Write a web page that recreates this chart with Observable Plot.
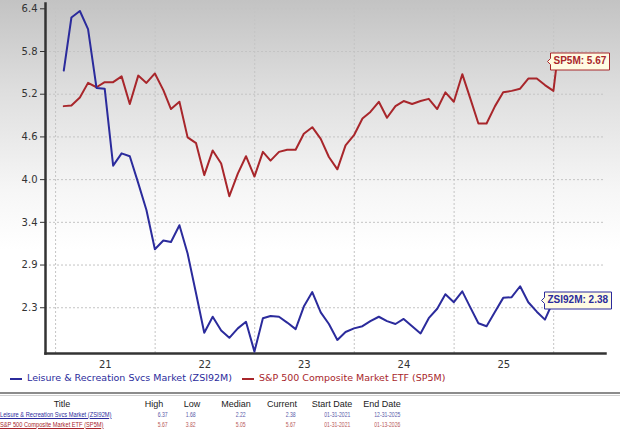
<!DOCTYPE html>
<html><head><meta charset="utf-8">
<script src="https://cdn.jsdelivr.net/npm/d3@7"></script>
<script src="https://cdn.jsdelivr.net/npm/@observablehq/plot@0.6"></script>
<style>
html,body{margin:0;padding:0;background:#fff;}
#wrap{position:relative;width:620px;height:431px;overflow:hidden;
  background:linear-gradient(to bottom,#c3c3c3 0px,#dedede 90px,#f6f6f6 190px,#ffffff 250px,#ffffff 100%);
  font-family:"DejaVu Sans",Verdana,sans-serif;}
#chart{position:absolute;left:0;top:0;}
#legend{position:absolute;left:10px;top:371px;font-size:9.5px;white-space:nowrap;line-height:14px;}
#legend .sw{display:inline-block;width:12px;height:2px;vertical-align:middle;margin-right:5px;}
#legend .it{margin-right:10px;}
#sep1{position:absolute;left:0;width:620px;top:392px;height:2px;background:#8c8c8c;}
#sep2{position:absolute;left:0;width:620px;top:395px;height:1px;background:#d0d0d0;}
.cell{position:absolute;white-space:nowrap;font-family:"Liberation Sans Narrow","Liberation Sans",Arial,sans-serif;}
.hd{font-size:9px;color:#222;transform:translateX(-50%);}
.v{font-size:7.5px;}
.ttl{font-size:7.5px;text-decoration:underline;}
</style></head>
<body>
<div id="wrap">
  <div id="chart"></div>
  <div id="legend"></div>
  <div id="sep1"></div><div id="sep2"></div>
  <div id="table"></div>
</div>
<script>
// ---- data ----
const seriesNames = ["Leisure & Recreation Svcs Market (ZSI92M)", "S&P 500 Composite Market ETF (SP5M)"];
const seriesCodes = ["ZSI92M", "SP5M"];
const seriesColors = ["#2b2b9c", "#a8262b"];
const firstMonthEnd = "2021-01-31";
const extraRedDate = "2026-01-13";
const zsi92mValues = [5.55,6.28,6.37,6.12,5.31,5.30,4.24,4.41,4.37,4.00,
  3.63,3.09,3.21,3.19,3.42,3.03,2.48,1.94,2.16,1.97,
  1.87,2.00,2.09,1.68,2.14,2.17,2.16,2.08,1.99,2.30,
  2.50,2.22,2.06,1.84,1.95,2.00,2.03,2.10,2.16,2.10,
  2.06,2.13,2.03,1.93,2.14,2.27,2.47,2.36,2.51,2.30,
  2.07,2.03,2.23,2.42,2.43,2.58,2.36,2.23,2.12,2.38];
const sp5mValues = [5.06,5.07,5.18,5.38,5.32,5.39,5.39,5.47,5.09,5.48,
  5.38,5.51,5.28,5.02,5.12,4.63,4.55,4.11,4.45,4.27,
  3.82,4.13,4.37,4.09,4.43,4.31,4.43,4.46,4.46,4.68,
  4.77,4.61,4.36,4.19,4.52,4.66,4.89,4.98,5.12,4.90,
  5.06,5.13,5.09,5.13,5.16,5.02,5.25,5.12,5.50,5.18,
  4.82,4.82,5.06,5.25,5.27,5.30,5.44,5.44,5.35,5.27,5.67];
const yTickValues = [6.4, 5.812, 5.224, 4.636, 4.048, 3.46, 2.872, 2.284];
const yTickLabels = ["6.4","5.8","5.2","4.6","4.0","3.4","2.9","2.3"];
const xTickYears = ["2021","2022","2023","2024","2025"];
const xTickLabels = ["21","22","23","24","25"];
const gridYears = ["2021","2022","2023","2024","2025","2026"];
const tableHeaders = ["Title","High","Low","Median","Current","Start Date","End Date"];
const tableHigh = ["6.37","5.67"];
const tableLow = ["1.68","3.82"];
const tableMedian = ["2.22","5.05"];
const tableCurrent = ["2.38","5.67"];
const tableStart = ["01-31-2021","01-31-2021"];
const tableEnd = ["12-31-2025","01-13-2026"];

// ---- build rows ----
const parse = d3.utcParse("%Y-%m-%d");
const start = parse(firstMonthEnd);
const monthEnd = i => d3.utcDay.offset(d3.utcMonth.offset(d3.utcMonth.floor(start), i + 1), -1);
const blue = zsi92mValues.map((v, i) => ({date: monthEnd(i), value: v}));
const red = sp5mValues.map((v, i) => ({date: i < 60 ? monthEnd(i) : parse(extraRedDate), value: v}));
const midYear = y => d3.utcDay.offset(parse(y + "-01-01"), 182);

function colored(col) {
  return function(index, scales, values, dims, ctx, next) {
    const g = next(index, scales, values, dims, ctx);
    g.style.color = col;
    g.querySelectorAll("text").forEach(t => t.setAttribute("fill", col));
    return g;
  };
}
const tipStyle = {anchor: "left", fill: "#fffbe2", fontSize: 10, fontWeight: "bold",
  fontFamily: "'Liberation Sans', Arial, sans-serif", textPadding: 3, pointerSize: 6, pathFilter: "none"};

const chart = Plot.plot({
  width: 620, height: 372,
  marginLeft: 45, marginRight: 15, marginTop: 3, marginBottom: 19,
  style: {background: "transparent", fontFamily: "'DejaVu Sans', Verdana, sans-serif", fontSize: "10px", color: "#333"},
  x: {type: "utc", domain: [parse("2020-11-25"), parse("2026-07-10")]},
  y: {domain: [1.654, 6.473]},
  marks: [
    Plot.ruleY(yTickValues, {stroke: "#c4c4c4", strokeDasharray: "2,2", strokeWidth: 1}),
    Plot.ruleX(gridYears.map(y => parse(y + "-01-01")), {stroke: "#c4c4c4", strokeDasharray: "2,2", strokeWidth: 1}),
    Plot.axisY({ticks: yTickValues, tickFormat: d => yTickLabels[yTickValues.indexOf(d)], tickSize: 5, tickPadding: 3, stroke: "#333", label: null}),
    Plot.axisX({ticks: xTickYears.map(midYear), tickFormat: d => xTickLabels[xTickYears.indexOf(String(d.getUTCFullYear()))], tickSize: 0, tickPadding: 7, label: null}),
    Plot.frame({anchor: "left", stroke: "#333", strokeWidth: 2.5}),
    Plot.frame({anchor: "bottom", stroke: "#333", strokeWidth: 2.5}),
    Plot.lineY(red, {x: "date", y: "value", stroke: seriesColors[1], strokeWidth: 2}),
    Plot.lineY(blue, {x: "date", y: "value", stroke: seriesColors[0], strokeWidth: 2}),
    Plot.tip([red[red.length - 1]], {x: "date", y: "value", title: d => `${seriesCodes[1]}: ${d.value.toFixed(2)}`,
      dx: -9, stroke: seriesColors[1], ...tipStyle, render: colored(seriesColors[1])}),
    Plot.tip([blue[blue.length - 1]], {x: "date", y: "value", title: d => `${seriesCodes[0]}: ${d.value.toFixed(2)}`,
      dx: -12, stroke: seriesColors[0], ...tipStyle, render: colored(seriesColors[0])})
  ]
});
document.getElementById("chart").append(chart);

// legend
const legend = document.getElementById("legend");
seriesNames.forEach((n, i) => {
  const it = document.createElement("span");
  it.className = "it";
  it.style.color = seriesColors[i];
  it.innerHTML = `<span class="sw" style="background:${seriesColors[i]}"></span>`;
  it.append(document.createTextNode(n));
  legend.append(it);
});

// table
const table = document.getElementById("table");
const hdX = [62, 154, 192, 236, 282, 332, 382];
const valRight = [168, 196, 246, 296, 350, 400];
const rowY = [409.5, 419.5];
tableHeaders.forEach((h, i) => {
  const d = document.createElement("div");
  d.className = "cell hd"; d.textContent = h;
  d.style.left = hdX[i] + "px"; d.style.top = "399px";
  table.append(d);
});
const valueCols = [tableHigh, tableLow, tableMedian, tableCurrent, tableStart, tableEnd];
const lightCols = ["#5a5aa8", "#b85a5a"];
[0, 1].forEach(r => {
  const t = document.createElement("div");
  t.className = "cell ttl"; t.textContent = seriesNames[r];
  t.style.left = "0px"; t.style.top = rowY[r] + "px"; t.style.color = seriesColors[r];
  t.style.transformOrigin = "0 0"; t.style.transform = "scaleX(0.76)";
  table.append(t);
  valueCols.forEach((col, c) => {
    const d = document.createElement("div");
    d.className = "cell v"; d.textContent = col[r];
    d.style.right = (620 - valRight[c]) + "px"; d.style.top = rowY[r] + "px"; d.style.color = lightCols[r];
    d.style.transformOrigin = "100% 0"; d.style.transform = "scaleX(0.68)";
    table.append(d);
  });
});
</script>
</body></html>
